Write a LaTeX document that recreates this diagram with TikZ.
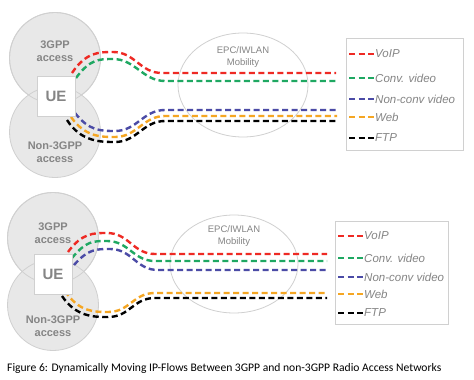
\documentclass[tikz,border=0pt]{standalone}
\usepackage{fontspec}
\setmainfont{Liberation Sans}
\newfontfamily\capfont{Carlito}
\usetikzlibrary{positioning,shapes.geometric}

\definecolor{zonefill}{HTML}{E8E8E8}
\definecolor{zoneline}{HTML}{D0D0D0}
\definecolor{txtgray}{HTML}{858585}
\definecolor{voipred}{HTML}{EE2A24}
\definecolor{convgreen}{HTML}{1FA862}
\definecolor{ncblue}{HTML}{4B4BA6}
\definecolor{webamber}{HTML}{F5A623}

\begin{document}
\begin{tikzpicture}[x=1pt,y=-1pt,
  zone/.style={circle,fill=zonefill,draw=zoneline,line width=0.8pt,minimum size=91pt,inner sep=0pt},
  zonetxt/.style={align=center,text=txtgray,font=\fontsize{11}{13}\selectfont\bfseries},
  ue/.style={draw=zoneline,fill=white,line width=1pt,minimum width=38pt,minimum height=40pt,inner sep=0pt,
    text=txtgray,font=\fontsize{15}{17}\selectfont\bfseries},
  core/.style={ellipse,draw=zoneline,line width=0.8pt,inner sep=0pt},
  coretxt/.style={align=center,text=txtgray,font=\fontsize{9.5}{11.5}\selectfont},
  legbox/.style={draw=zoneline,line width=0.8pt,inner sep=0pt},
  legtxt/.style={anchor=west,text=txtgray,inner sep=1pt,font=\fontsize{11.5}{13}\selectfont\itshape},
  flow/.style={line width=2.4pt,dash pattern=on 6pt off 3.5pt}]

  \useasboundingbox[fill=white] (0,0) rectangle (474,380);

  % ---- upper panel ----
  \node[zone] (acc3a) at (55,58) {};
  \node[zone] (accna) at (55,132) {};
  \draw[zoneline,line width=0.8pt] (acc3a) circle (45.5pt);
  \node[zonetxt] (acc3aT) at ([yshift=7pt]acc3a.center) {3GPP\\access};
  \node[zonetxt] (accnaT) at ([yshift=-20pt]accna.center) {Non-3GPP\\access};
  \node[core,minimum width=130pt,minimum height=104pt] (epca) at (243,85) {};
  \node[coretxt] (epcaT) at ([yshift=28pt]epca.center) {EPC/IWLAN\\Mobility};

  % flows: colour / start / peak or dip / join / end x
  \foreach \c/\xa/\ya/\xp/\yp/\xb/\yb/\xe in {voipred/72/73/113/52/162/73/336,
      convgreen/76/78/113/59/165/81/336, ncblue/75/113/115/131/165/110/337,
      webamber/71/117/115/137/165/116/337, black/67/120/115/142/165/121/337}
    \draw[flow,\c] (\xa,\ya) .. controls (\xa+14,\yp) and (\xp-14,\yp) .. (\xp,\yp)
      .. controls (\xp+22,\yp) and (\xb-22,\yb) .. (\xb,\yb) -- (\xe,\yb);

  \node[ue] (uea) at (56,96) {UE};

  \node[legbox,minimum width=117pt,minimum height=112pt] (leg1) at (404.5,94) {};
  \foreach \c/\y/\t/\id in {voipred/54/VoIP/v, convgreen/78/{Conv. video}/c, ncblue/99/{Non-conv video}/n,
      webamber/117/Web/w, black/138/FTP/f}{
    \node[legtxt] (la\id) at (374,\y) {\t};
    \draw[flow,\c] ([xshift=-25pt]la\id.west) -- (la\id.west);
  }

  % ---- lower panel ----
  \node[zone] (acc3b) at (53,238) {};
  \node[zone] (accnb) at (53,305) {};
  \draw[zoneline,line width=0.8pt] (acc3b) circle (45.5pt);
  \node[zonetxt] (acc3bT) at ([yshift=5pt]acc3b.center) {3GPP\\access};
  \node[zonetxt] (accnbT) at ([yshift=-21pt]accnb.center) {Non-3GPP\\access};
  \node[core,minimum width=128pt,minimum height=98pt] (epcb) at (234,264) {};
  \node[coretxt] (epcbT) at ([yshift=28pt]epcb.center) {EPC/IWLAN\\Mobility};

  \foreach \c/\xa/\ya/\xp/\yp/\xb/\yb/\xe in {voipred/68/252/107/233/155/254/327,
      convgreen/72/258/107/241/155/261/327, ncblue/74/265/110/249/158/270/327,
      webamber/65/291/108/312/155/293/327, black/62/296/108/317/155/298/327}
    \draw[flow,\c] (\xa,\ya) .. controls (\xa+14,\yp) and (\xp-14,\yp) .. (\xp,\yp)
      .. controls (\xp+22,\yp) and (\xb-22,\yb) .. (\xb,\yb) -- (\xe,\yb);

  \node[ue] (ueb) at (53,274) {UE};

  \node[legbox,minimum width=113pt,minimum height=103pt] (leg2) at (391.5,272.5) {};
  \foreach \c/\y/\t/\id in {voipred/236/VoIP/v, convgreen/258/{Conv. video}/c, ncblue/277/{Non-conv video}/n,
      webamber/294/Web/w, black/313/FTP/f}{
    \node[legtxt] (lb\id) at (363,\y) {\t};
    \draw[flow,\c] ([xshift=-25pt]lb\id.west) -- (lb\id.west);
  }

  \node[anchor=west,inner sep=0pt,font=\capfont\fontsize{11.6}{13}\selectfont] (cap) at (7,368)
    {Figure 6: Dynamically Moving IP-Flows Between 3GPP and non-3GPP Radio Access Networks};
\end{tikzpicture}
\end{document}
